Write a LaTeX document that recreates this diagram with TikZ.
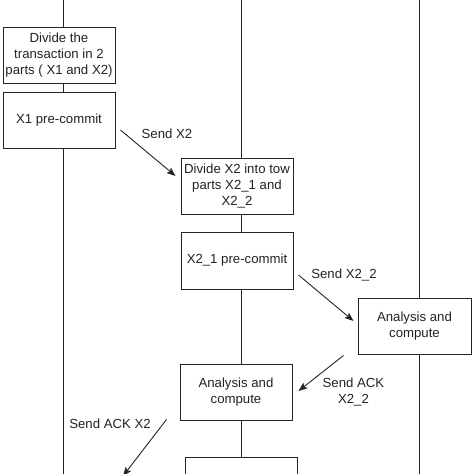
\documentclass[tikz,border=0pt]{standalone}
\usepackage{fontspec}
\setmainfont{Liberation Sans}
\usetikzlibrary{arrows.meta,calc}
\definecolor{ink}{RGB}{35,35,35}
\begin{document}
\begin{tikzpicture}[x=1pt,y=-1pt,
  box/.style={draw=ink,line width=1pt,fill=white,align=center,inner sep=0pt,
    minimum width=112pt,minimum height=56pt,text=ink,
    font=\fontsize{13.2}{16}\selectfont},
  life/.style={draw=ink,line width=1pt},
  msg/.style={draw=ink,line width=0.9pt,-{Stealth[length=9pt,width=7pt,inset=2pt]}},
  lbl/.style={text=ink,align=center,inner sep=0pt,font=\fontsize{13.2}{16}\selectfont}]
\useasboundingbox (0,0) rectangle (474,474);
\clip (0,0) rectangle (474,474);
% boxes
\node[box] (b1) at (59,55) {Divide the\\transaction in 2\\parts ( X1 and X2)};
\node[box] (b2) at (59,120) {X1 pre-commit};
\node[box] (b3) at (237,186) {Divide X2 into tow\\parts X2\_1 and\\X2\_2};
\node[box,minimum height=57pt] (b4) at (237,260.5) {X2\_1 pre-commit};
\node[box,minimum width=113pt] (b5) at (414.5,326) {Analysis and\\compute};
\node[box] (b6) at (236,392) {Analysis and\\compute};
\node[box] (b7) at (241,485) {};
% lifelines
\coordinate (L) at (63,0);
\coordinate (M) at (241,0);
\coordinate (R) at (419,0);
\coordinate (Lb) at (63,480);
\coordinate (Rb) at (419,480);
\draw[life] (L) -- (L |- b1.north);
\draw[life] (L |- b1.south) -- (L |- b2.north);
\draw[life] (L |- b2.south) -- (Lb);
\draw[life] (M) -- (M |- b3.north);
\draw[life] (M |- b3.south) -- (M |- b4.north);
\draw[life] (M |- b4.south) -- (M |- b6.north);
\draw[life] (M |- b6.south) -- (M |- b7.north);
\draw[life] (R) -- (R |- b5.north);
\draw[life] (R |- b5.south) -- (Rb);
% messages
\coordinate (e1) at (123,476);
\draw[msg] ($(b2.east)+(5,10)$) -- ($(b3.west)+(-5,-10)$);
\draw[msg] ($(b4.east)+(5,14.5)$) -- ($(b5.west)+(-4,-5)$);
\draw[msg] ($(b5.south west)+(-14,1)$) -- ($(b6.east)+(6,-1)$);
\draw[msg] ($(b6.south west)+(-13,-1)$) -- (e1);
% labels
\node[lbl] (t1) at (167,134) {Send X2};
\node[lbl] (t2) at (344,275) {Send X2\_2};
\node[lbl] (t3) at (353.5,392) {Send ACK\\X2\_2};
\node[lbl] (t4) at (110,424) {Send ACK X2};
\end{tikzpicture}
\end{document}
